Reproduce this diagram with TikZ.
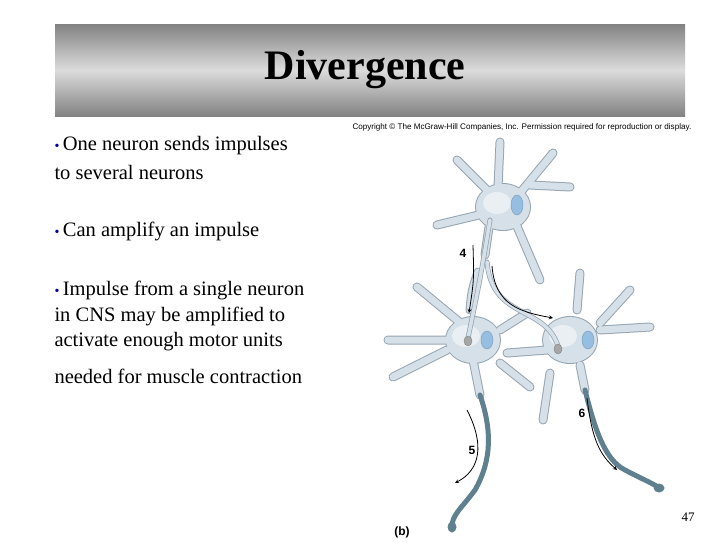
\documentclass[tikz,border=0pt]{standalone}
\usepackage{fontspec}
\setmainfont{Liberation Serif}
\newfontfamily\arialf{Liberation Sans}
\begin{document}
\begin{tikzpicture}[x=1pt,y=-1pt,
  dend/.style={line cap=round,line width=9pt,draw=nOut},
  dendf/.style={line cap=round,line width=7pt,draw=nFill},
  axo/.style={line cap=round,line width=5pt,draw=axC},
  arr/.style={-stealth,line width=0.8pt,black},
  num/.style={font=\arialf\bfseries\fontsize{12}{14}\selectfont},
  bul/.style={anchor=west,font=\fontsize{20.5}{24}\selectfont,align=left}]
\definecolor{nOut}{RGB}{150,165,178}
\definecolor{nFill}{RGB}{214,224,232}
\definecolor{axC}{RGB}{95,128,142}
\definecolor{nucC}{RGB}{150,190,225}
\definecolor{barD}{RGB}{130,130,130}
\definecolor{barL}{RGB}{220,220,220}
\useasboundingbox (0,0) rectangle (728,546);
\fill[white] (0,0) rectangle (728,546);
% header bar
\shade[top color=barD,bottom color=barD,middle color=barL] (55,24) rectangle (685,116);
\node[font=\bfseries\fontsize{42}{46}\selectfont] (title) at (365,70) {Divergence};
\node[font=\arialf\fontsize{8.1}{9}\selectfont,anchor=west] (copy) at (349,127) {Copyright \textcopyright{} The McGraw-Hill Companies, Inc. Permission required for reproduction or display.};
% bullets
\newcommand{\bdot}{\textcolor{blue!60!black}{\fontsize{14}{14}\selectfont\textbullet}\,}
\node[bul] (b1) at (51,146) {\bdot One neuron sends impulses};
\node[bul] (b1b) at (51,172) {to several neurons};
\node[bul] (b2) at (51,231) {\bdot Can amplify an impulse};
\node[bul] (b3) at (51,290) {\bdot Impulse from a single neuron};
\node[bul] (b3b) at (51,316) {in CNS may be amplified to};
\node[bul] (b3c) at (51,342) {activate enough motor units};
\node[bul] (b3d) at (51,376) {needed for muscle contraction};
% neuron dendrite geometry
\def\topN{(497,210)--(500,142) (520,193)--(553,153) (530,185)--(570,187) (487,213)--(437,225) (490,193)--(457,160) (513,217)--(540,280) (490,220)--(485,255)}
\def\leftN{(463,325)--(417,287) (450,340)--(388,340) (447,350)--(393,377) (470,310) .. controls (472,290) .. (478,272) (500,363)--(530,387) (500,330)--(527,313) (473,360)--(480,395)}
\def\rightN{(577,310)--(580,273) (600,323)--(630,290) (600,330)--(650,327) (547,350)--(507,353) (550,373)--(543,420) (580,365)--(585,390)}
\foreach \p in {\topN,\leftN,\rightN}{\draw[dend] \p;}
\fill[nOut] (503,207) ellipse (28 and 24);
\fill[nOut] (473,340) ellipse (28 and 24);
\fill[nOut] (570,340) ellipse (28 and 24);
\foreach \p in {\topN,\leftN,\rightN}{\draw[dendf] \p;}
\fill[nFill] (503,207) ellipse (27 and 23);
\fill[nFill] (473,340) ellipse (27 and 23);
\fill[nFill] (570,340) ellipse (27 and 23);
\fill[white,opacity=0.5] (497,203) ellipse (14 and 11);
\fill[white,opacity=0.5] (466,336) ellipse (14 and 11);
\fill[white,opacity=0.5] (563,336) ellipse (14 and 11);
% axons of top neuron
\draw[line width=5pt,nOut,line cap=round] (490,220) .. controls (480,280) .. (468,338);
\draw[line width=3.5pt,nFill,line cap=round] (490,220) .. controls (480,280) .. (468,338);
\draw[line width=5pt,nOut,line cap=round] (487,262) .. controls (492,320) and (545,305) .. (558,346);
\draw[line width=3.5pt,nFill,line cap=round] (487,262) .. controls (492,320) and (545,305) .. (558,346);
\fill[gray!70,draw=gray] (468,341) ellipse (4 and 5);
\fill[gray!70,draw=gray] (558,349) ellipse (4 and 5);
% nuclei
\fill[nucC,draw=nucC!80!black] (517,205) ellipse (6 and 10);
\fill[nucC,draw=nucC!80!black] (487,340) ellipse (6 and 9);
\fill[nucC,draw=nucC!80!black] (588,340) ellipse (6 and 9);
% output axons
\draw[axo] (480,395) .. controls (492,430) and (492,460) .. (475,490) .. controls (460,510) and (452,515) .. (452,527);
\fill[axC] (452,527) ellipse (4.5 and 5.5);
\draw[axo] (585,390) .. controls (595,430) and (605,460) .. (625,470) .. controls (640,478) and (650,482) .. (658,487);
\fill[axC] (659,488) ellipse (5.5 and 4.5);
% arrows and labels
\node[num] (n4) at (463,253) {4};
\coordinate (a4s) at (473,245); \coordinate (a4e) at (469,313);
\draw[arr] (a4s) .. controls (474,280) .. (a4e);
\coordinate (a4bs) at (492,266); \coordinate (a4be) at (553,318);
\draw[arr] (a4bs) .. controls (495,305) and (520,312) .. (a4be);
\node[num] (n5) at (472,450) {5};
\coordinate (a5s) at (467,410); \coordinate (a5e) at (455,483);
\draw[arr] (a5s) .. controls (485,445) and (480,470) .. (a5e);
\node[num] (n6) at (582,413) {6};
\coordinate (a6s) at (587,398); \coordinate (a6e) at (617,470);
\draw[arr] (a6s) .. controls (592,440) and (600,455) .. (a6e);
\node[num] (nb) at (402,532) {(b)};
\node[font=\fontsize{13}{15}\selectfont] (pg) at (688,517) {47};
\end{tikzpicture}
\end{document}
